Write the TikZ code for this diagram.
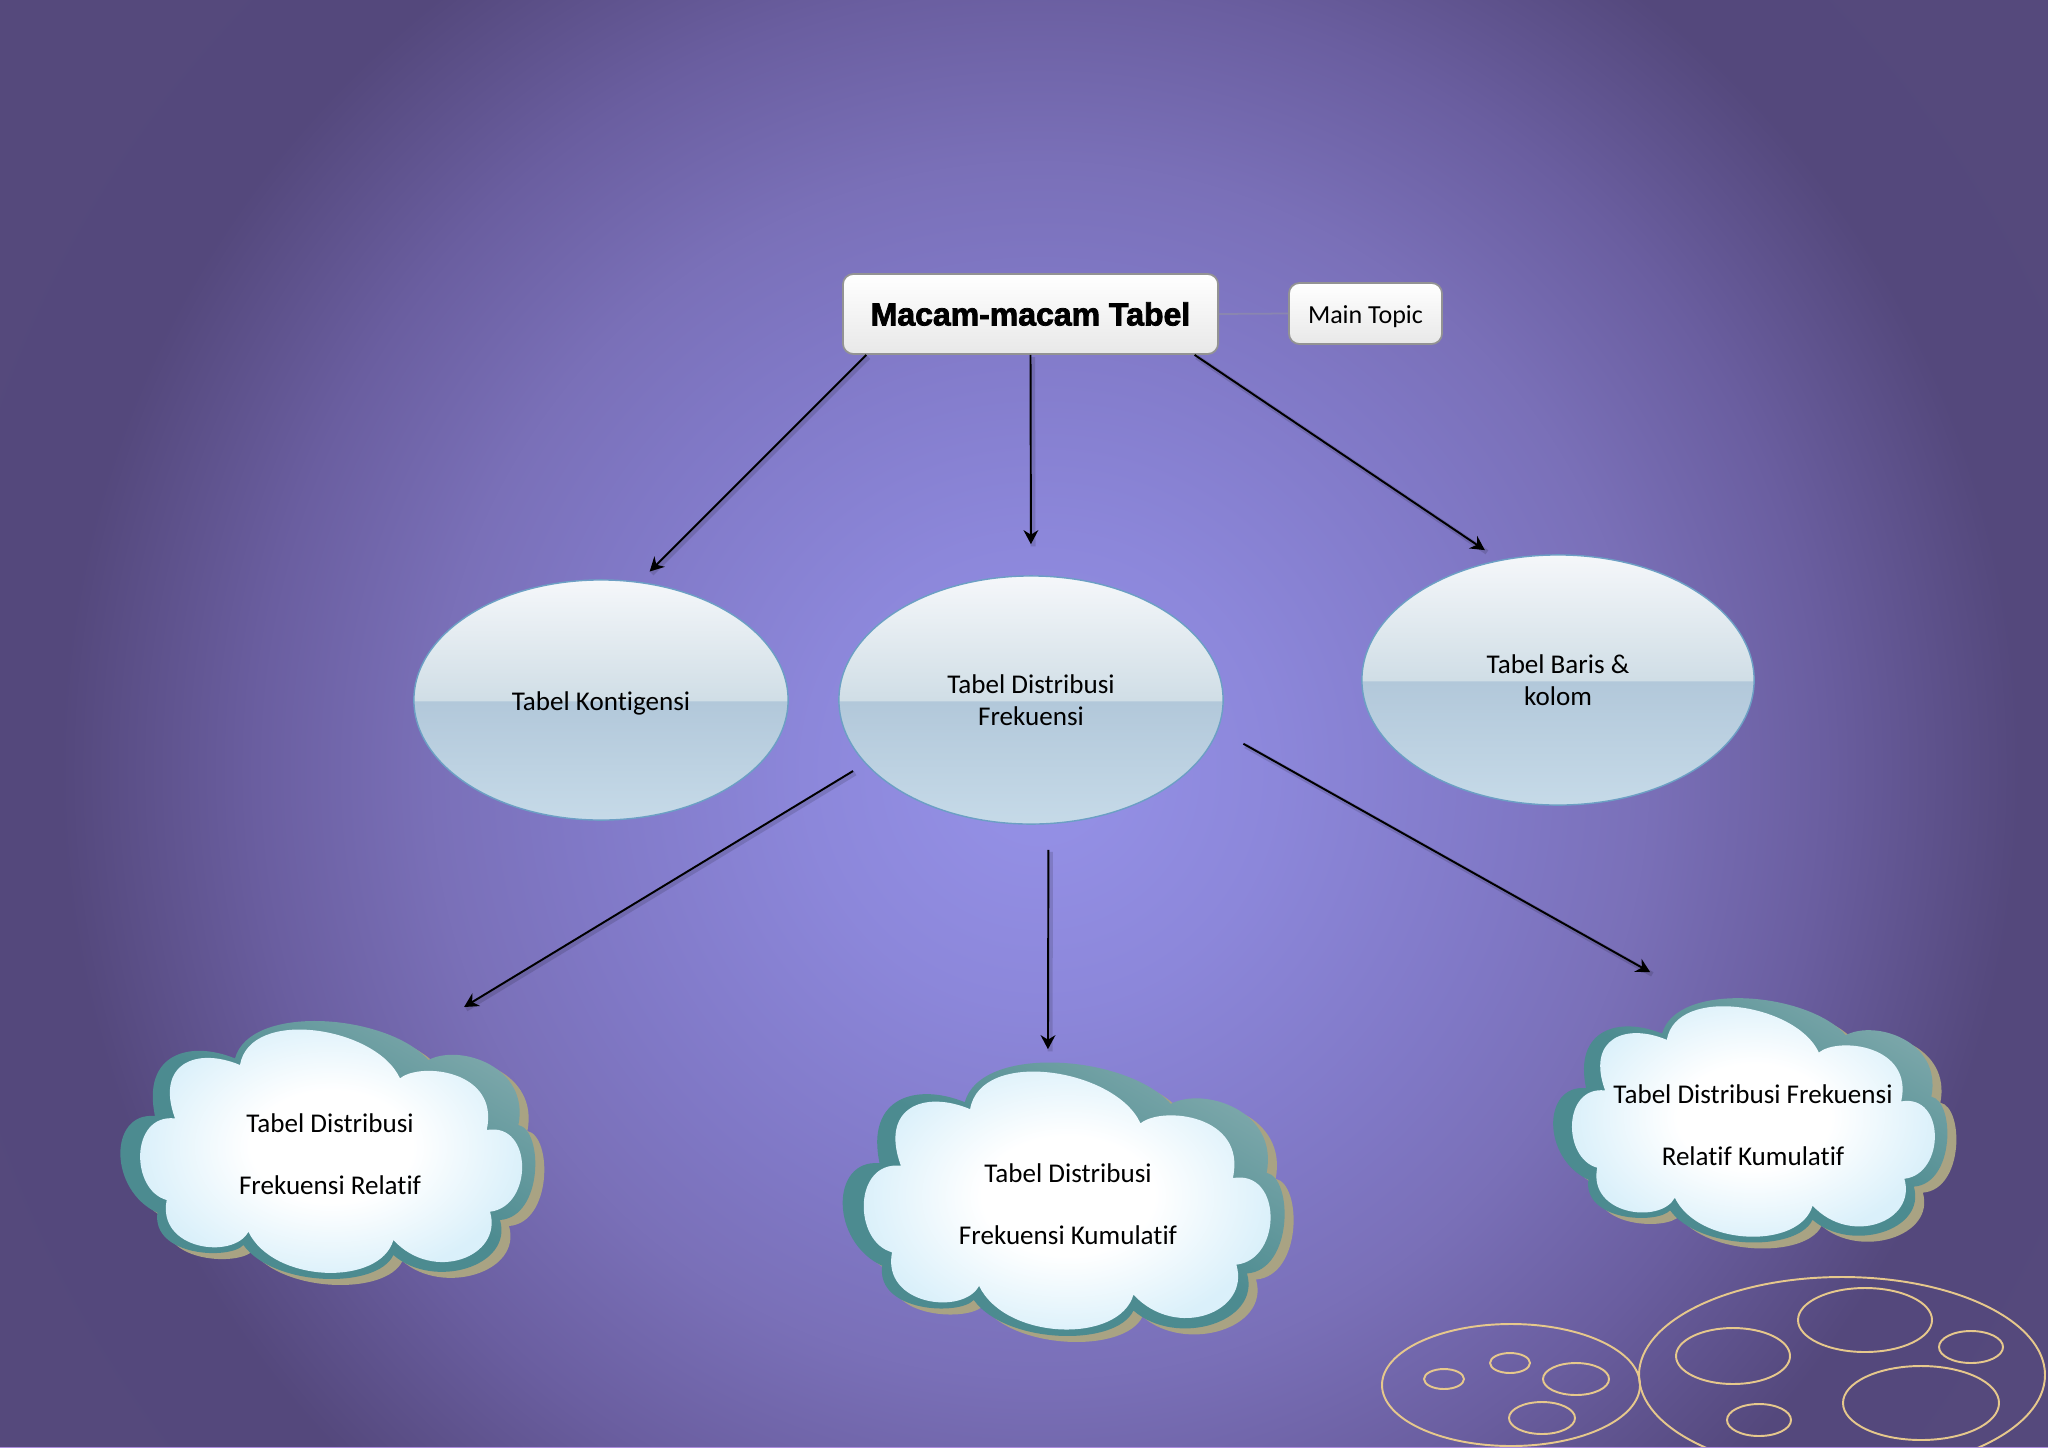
\documentclass[tikz,border=0pt]{standalone}
\usepackage{xcolor}
\usepackage{fontspec}
\setmainfont[Ligatures=NoCommon]{Carlito}
\newfontfamily\judulfont[FakeBold=2.4]{Liberation Sans Bold}
\usetikzlibrary{shapes.geometric, arrows.meta, positioning, calc}
\definecolor{garisemas}{HTML}{E6C88C}
\definecolor{awanteal}{HTML}{4C8B90}
\definecolor{awanmuda}{HTML}{7FA9AC}
\definecolor{awantan}{HTML}{A9A383}
\definecolor{awantepi}{HTML}{DAF0FA}
\definecolor{tepielips}{HTML}{6C9FC4}
\definecolor{garistopik}{HTML}{8A86B0}
\pgfdeclareradialshading{latar}{\pgfpointorigin}{
    rgb(0bp)=(.588,.573,.91);
    rgb(4.2bp)=(.549,.529,.855);
    rgb(8.4bp)=(.502,.471,.776);
    rgb(10.8bp)=(.478,.439,.722);
    rgb(14bp)=(.416,.369,.627);
    rgb(17.5bp)=(.329,.282,.486);
    rgb(25bp)=(.337,.29,.486);
    rgb(50bp)=(.337,.29,.486)}
\pgfdeclareradialshading{isiawan}{\pgfpointorigin}{
    color(0bp)=(white);
    color(10bp)=(white);
    color(24bp)=(awantepi);
    color(50bp)=(awantepi)}
\pgfdeclareverticalshading{kaca}{100bp}{
    rgb(0bp)=(.776,.855,.91);
    rgb(25bp)=(.776,.855,.91);
    rgb(49.7bp)=(.698,.784,.855);
    rgb(50bp)=(.816,.87,.902);
    rgb(75bp)=(.961,.969,.98);
    rgb(100bp)=(.961,.969,.98)}
\tikzset{
    kotak/.style={rectangle,draw=gray!85,top color=white,bottom color=black!9,rounded corners=3pt,line width=0.5pt},
    elips/.style={ellipse,draw=tepielips,shading=kaca,line width=0.4pt,inner sep=0pt,align=center,font=\fontsize{7.7}{9}\selectfont,
        execute at begin node={\rule{0pt}{7.4pt}}},
    teksawan/.style={rectangle,inner sep=0pt,align=center,font=\fontsize{7.7}{17.6}\selectfont},
    panah/.style={-{Stealth[length=4pt,width=4.2pt]},black,line width=0.55pt,
        preaction={draw=black,opacity=0.13,line width=1.4pt,-,transform canvas={xshift=0.6pt,yshift=-0.6pt}}},
    lingkar/.style={draw=garisemas,line width=0.55pt}
}
% bentuk awan, titik tengah di (0,0)
\newcommand{\jalurawan}{
    (-90.7,-85.7) .. controls (-80.7,-144) and (46,-124) .. (69.3,-72.3)
    .. controls (89.3,-89) and (169.3,-80.7) .. (156,-20.7)
    .. controls (202.7,-29) and (202.7,56) .. (159.3,61)
    .. controls (172.7,106) and (102.7,132.7) .. (62.7,89.3)
    .. controls (49.3,136) and (-57.3,132.7) .. (-82.3,81)
    .. controls (-97.3,109.3) and (-174,99.3) .. (-164,49.3)
    .. controls (-200.7,39.3) and (-200.7,-37.3) .. (-155.7,-32.3)
    .. controls (-175.7,-87.3) and (-134,-104) .. (-90.7,-85.7) -- cycle}
% tepi luar awan
\newcommand{\jalurluar}{
    (-95.7,-92.3) .. controls (-80.7,-147.3) and (56,-137.3) .. (97.7,-90.7)
    .. controls (129.3,-107.3) and (199.3,-84) .. (187.7,-25.7)
    .. controls (212.7,-20.7) and (212.7,66) .. (169.3,69.3)
    .. controls (182.7,116) and (102.7,139.3) .. (62.7,104.3)
    .. controls (46,139.3) and (-57.3,136) .. (-87.3,94.3)
    .. controls (-100.7,109.3) and (-179,106) .. (-173.3,62)
    .. controls (-222.3,39.3) and (-222.3,-39) .. (-175.7,-34.7)
    .. controls (-189,-97.3) and (-140.7,-110.7) .. (-95.7,-92.3) -- cycle}
\newcommand{\awan}[4]{
    \begin{scope}[shift={(#1+9,#2+6)},xscale=#3,yscale=#4]
        \fill[awantan] \jalurluar;
    \end{scope}
    \begin{scope}[shift={(#1,#2)},xscale=#3,yscale=#4]
        \shade[bottom color=awanteal,top color=awanmuda,middle color=awanteal,shading angle=-30] \jalurluar;
        \shade[shading=isiawan] \jalurawan;
    \end{scope}
}
\begin{document}
\begin{tikzpicture}[x=0.01cm,y=-0.01cm]
    \useasboundingbox (0,0) rectangle (2048,1448);
    \fill[blue!45!violet!45!white] (0,0) rectangle (2048,1448);

    % Latar
    \begin{scope}
        \clip (0,0) rectangle (2048,1446);
        \shade[shading=latar] (1040-1400,770-1400) rectangle (1040+1400,770+1400);
        \foreach \cx/\cy/\ra/\rb in {1511/1385/129/61,1444/1379/20/10,1510/1363/20/10,1576/1379/33/16,1542/1418/33/16,
            1842/1375/203/98,1865/1320/67/32,1733/1356/57/28,1971/1347/32/16,1921/1403/78/37,1759/1420/32/16}
            \draw[lingkar] (\cx,\cy) ellipse [x radius=\ra,y radius=\rb];
    \end{scope}

    % Awan
    \awan{330.7}{1150.7}{1}{1}
    \awan{1066.7}{1200}{1.065}{1.06}
    \awan{1753}{1121}{0.95}{0.947}

    % Judul
    \node[kotak,minimum width=3.75cm,minimum height=0.8cm,font=\judulfont\fontsize{9.1}{10}\selectfont] (macam) at (1030.5,314) {Macam-macam Tabel};
    \node[kotak,minimum width=1.53cm,minimum height=0.61cm,font=\fontsize{7.4}{9}\selectfont,execute at begin node={\rule{0pt}{7pt}}] (topik) at (1365.5,313.5) {Main Topic};

    % Elips
    \node[elips,minimum width=3.74cm,minimum height=2.4cm] (kontigensi) at (601,700) {Tabel Kontigensi};
    \node[elips,minimum width=3.84cm,minimum height=2.48cm] (frekuensi) at (1031,700) {Tabel Distribusi\\Frekuensi};
    \node[elips,minimum width=3.92cm,minimum height=2.5cm] (baris) at (1558,680) {Tabel Baris \&\\kolom};

    % Teks awan
    \node[teksawan,minimum width=4.3cm,minimum height=2.66cm] (relatif) at (330,1154) {Tabel Distribusi\\Frekuensi Relatif};
    \node[teksawan,minimum width=4.5cm,minimum height=2.84cm] (kumulatif) at (1068,1204) {Tabel Distribusi\\Frekuensi Kumulatif};
    \node[teksawan,minimum width=4cm,minimum height=2.56cm] (relkum) at (1753,1125) {Tabel Distribusi Frekuensi\\Relatif Kumulatif};

    % Connessioni
    \draw[garistopik,line width=0.5pt] (macam.east) -- (topik.west);
    \draw[panah,shorten >=0.145cm] (macam.194.9) -- (kontigensi.72.6);
    \draw[panah,shorten >=0.31cm] (macam.south) -- (frekuensi.north);
    \draw[panah,shorten >=0.176cm] (macam.346.1) -- (baris.116.9);
    \draw[panah,shorten <=0.142cm,shorten >=0.255cm] (frekuensi.201.6) -- (relatif.50.4);
    \draw[panah,shorten <=0.255cm,shorten >=0.12cm] (frekuensi.-82.2) -- (kumulatif.98);
    \draw[panah,shorten <=0.288cm,shorten >=0.49cm] (frekuensi.-9.5) -- (relkum.115.8);
\end{tikzpicture}
\end{document}
